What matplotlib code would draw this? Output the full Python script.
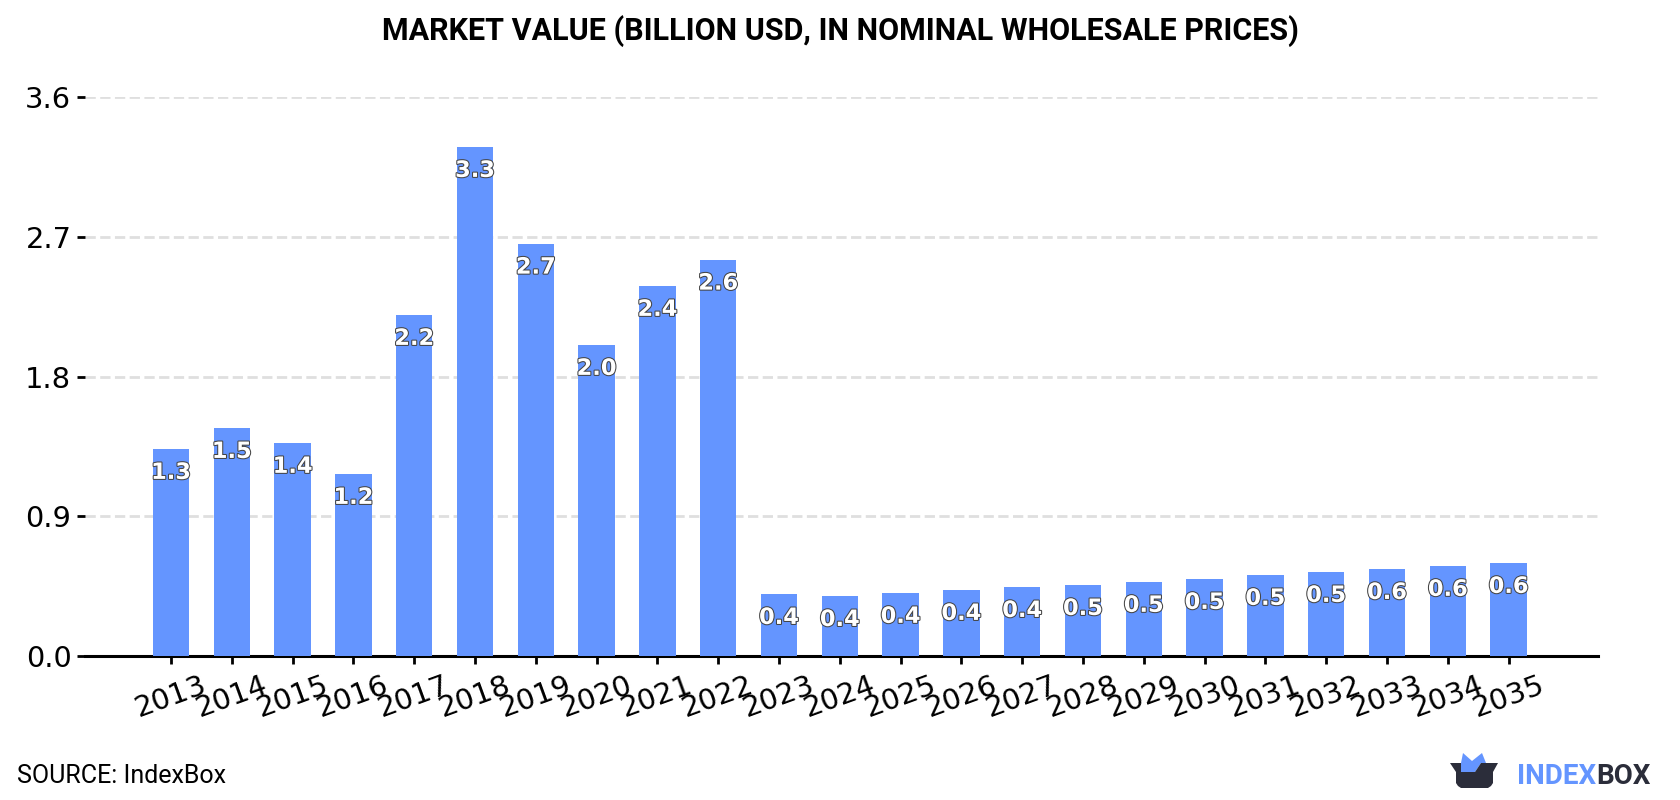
import matplotlib
matplotlib.use('Agg')
import matplotlib.pyplot as plt
import matplotlib.patheffects as pe
from matplotlib.patches import Polygon

years = [2013, 2014, 2015, 2016, 2017, 2018, 2019, 2020, 2021, 2022, 2023, 2024,
         2025, 2026, 2027, 2028, 2029, 2030, 2031, 2032, 2033, 2034, 2035]
market_value = [1.333, 1.468, 1.372, 1.172, 2.196, 3.278, 2.655, 2.003, 2.383, 2.552, 0.399, 0.386,
                0.406, 0.425, 0.444, 0.457, 0.477, 0.496, 0.522, 0.541, 0.560, 0.580, 0.599]
y_ticks = [0.0, 0.9, 1.8, 2.7, 3.6]

title_text = 'MARKET VALUE (BILLION USD, IN NOMINAL WHOLESALE PRICES)'
source_text = 'SOURCE: IndexBox'

BLUE = '#6495FF'
DARK = '#2B2D3A'

fig = plt.figure(figsize=(16.8, 8), dpi=100)
ax = fig.add_axes([85 / 1680, 1 - 656 / 800, (1598 - 85) / 1680, (656 - 97) / 800])

x = list(range(len(years)))
ax.bar(x, market_value, width=0.6, color=BLUE, zorder=3)

for xi, val in zip(x, market_value):
    ax.annotate('{:.1f}'.format(val), (xi, val), xytext=(0, -17.2), textcoords='offset points',
                ha='center', va='center', color='white', fontsize=16.2, fontweight='bold',
                family='DejaVu Sans', zorder=4,
                path_effects=[pe.withStroke(linewidth=1.5, foreground='#444444')])

ax.set_xlim(-1.414, 23.47)
ax.set_ylim(0, 3.6)
ax.set_xticks(x)
ax.set_xticklabels(years, rotation=20, fontsize=21)
ax.set_yticks(y_ticks)
ax.set_yticklabels(['{:.1f}'.format(t) for t in y_ticks], fontsize=20.8)
ax.tick_params(axis='x', length=5.8, width=2, pad=5)
ax.tick_params(axis='y', length=5.8, width=2, pad=4)

ax.grid(axis='y', color='#DFDFDF', linestyle='--', linewidth=2)
ax.set_axisbelow(True)
for side in ['top', 'right', 'left']:
    ax.spines[side].set_visible(False)
ax.spines['bottom'].set_linewidth(2.2)

fig.text(840 / 1680, 1 - 31 / 800, title_text, ha='center', va='center',
         family='Roboto', fontweight='bold', fontsize=22, color='black')
fig.text(17 / 1680, 1 - 776 / 800, source_text, ha='left', va='center',
         family='Roboto', fontsize=18, color='black')

# logo lives in its own pixel-based overlay
logo = fig.add_axes([0, 0, 1, 1])
logo.set_xlim(0, 1680)
logo.set_ylim(800, 0)
logo.axis('off')
logo.patch.set_alpha(0)
logo.add_patch(Polygon([(1461, 772), (1461, 763), (1463, 753), (1472, 761), (1482, 753),
                        (1486, 763), (1481, 763), (1475, 772)], closed=True, color=BLUE, lw=0))
logo.add_patch(Polygon([(1450, 763), (1461, 763), (1461, 772), (1475, 772), (1481, 763), (1498, 763),
                        (1493, 772), (1493, 783), (1491, 786), (1488, 788), (1461, 788),
                        (1458, 786), (1456, 783), (1456, 772)], closed=True, color=DARK, lw=0))
logo.text(1517, 776, 'INDEX', color=BLUE, family='Roboto', fontweight='bold', fontsize=20,
          ha='left', va='center')
logo.text(1596, 776, 'BOX', color=DARK, family='Roboto', fontweight='bold', fontsize=20,
          ha='left', va='center')

fig.savefig('out.png', dpi=100)
